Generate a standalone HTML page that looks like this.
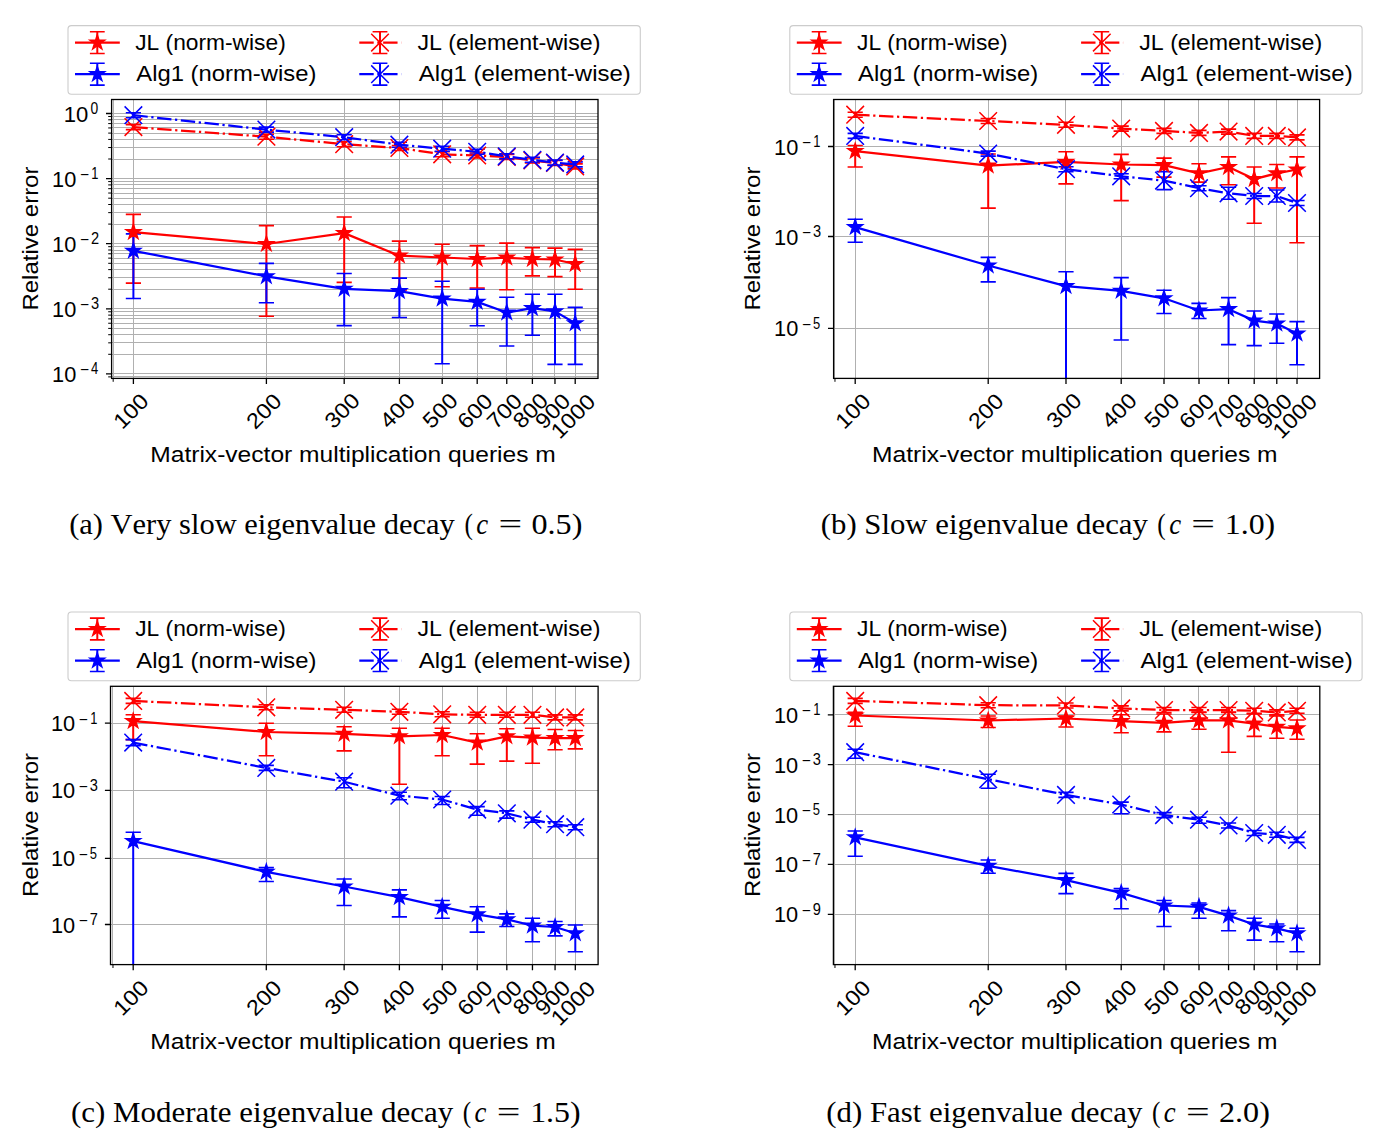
<!DOCTYPE html>
<html><head><meta charset="utf-8"><title>Figure</title>
<style>html,body{margin:0;padding:0;background:#fff;width:1376px;height:1129px;overflow:hidden}
svg{display:block;font-family:"Liberation Sans", sans-serif;font-kerning:none}
text{fill:#000}</style></head><body>
<svg width="1376" height="1129" viewBox="0 0 1376 1129">
<rect width="1376" height="1129" fill="#fff"/>
<clipPath id="clipa"><rect x="111.6" y="99.5" width="486.4" height="278.9"/></clipPath>
<path d="M111.6 376.5H598M111.6 354.5H598M111.6 342.5H598M111.6 334.5H598M111.6 328.5H598M111.6 323.5H598M111.6 318.5H598M111.6 315.5H598M111.6 311.5H598M111.6 289.5H598M111.6 277.5H598M111.6 269.5H598M111.6 263.5H598M111.6 258.5H598M111.6 253.5H598M111.6 250.5H598M111.6 246.5H598M111.6 224.5H598M111.6 212.5H598M111.6 204.5H598M111.6 198.5H598M111.6 193.5H598M111.6 188.5H598M111.6 184.5H598M111.6 181.5H598M111.6 159.5H598M111.6 147.5H598M111.6 139.5H598M111.6 133.5H598M111.6 127.5H598M111.6 123.5H598M111.6 119.5H598M111.6 116.5H598" stroke="#b0b0b0" stroke-width="1" fill="none"/>
<path d="M111.6 113.5H598M111.6 178.5H598M111.6 243.5H598M111.6 308.5H598M111.6 373.5H598M133.5 99.5V378.4M266.5 99.5V378.4M344.5 99.5V378.4M399.5 99.5V378.4M442.5 99.5V378.4M477.5 99.5V378.4M506.5 99.5V378.4M532.5 99.5V378.4M554.5 99.5V378.4M575.5 99.5V378.4M113.5 99.5V378.4" stroke="#b0b0b0" stroke-width="1" fill="none"/>
<path d="M106 113.5H111.6M106 178.6H111.6M106 243.7H111.6M106 308.8H111.6M106 373.9H111.6M133.4 378.4V384M266.4 378.4V384M344.19 378.4V384M399.39 378.4V384M442.2 378.4V384M477.19 378.4V384M506.76 378.4V384M532.39 378.4V384M554.98 378.4V384M575.2 378.4V384" stroke="#000" stroke-width="1.3" fill="none"/>
<path d="M108.2 376.88H111.6M108.2 354.3H111.6M108.2 342.84H111.6M108.2 334.71H111.6M108.2 328.4H111.6M108.2 323.24H111.6M108.2 318.88H111.6M108.2 315.11H111.6M108.2 311.78H111.6M108.2 289.2H111.6M108.2 277.74H111.6M108.2 269.61H111.6M108.2 263.3H111.6M108.2 258.14H111.6M108.2 253.78H111.6M108.2 250.01H111.6M108.2 246.68H111.6M108.2 224.1H111.6M108.2 212.64H111.6M108.2 204.51H111.6M108.2 198.2H111.6M108.2 193.04H111.6M108.2 188.68H111.6M108.2 184.91H111.6M108.2 181.58H111.6M108.2 159H111.6M108.2 147.54H111.6M108.2 139.41H111.6M108.2 133.1H111.6M108.2 127.94H111.6M108.2 123.58H111.6M108.2 119.81H111.6M108.2 116.48H111.6M113.18 378.4V381.8" stroke="#000" stroke-width="1" fill="none"/>
<g clip-path="url(#clipa)">
<path d="M133.4 214.4V283.1M266.4 225.6V316.2M344.19 217V282.4M399.39 241.1V290M442.2 244.2V286.7M477.19 245.6V288M506.76 243.1V289.8M532.39 247.6V275.9M554.98 248.1V276.6M575.2 249.4V289.2" stroke="#ff0000" stroke-width="2" fill="none"/>
<path d="M125.8 214.4H141M125.8 283.1H141M258.8 225.6H274M258.8 316.2H274M336.59 217H351.79M336.59 282.4H351.79M391.79 241.1H406.99M391.79 290H406.99M434.6 244.2H449.8M434.6 286.7H449.8M469.59 245.6H484.79M469.59 288H484.79M499.16 243.1H514.36M499.16 289.8H514.36M524.79 247.6H539.99M524.79 275.9H539.99M547.38 248.1H562.58M547.38 276.6H562.58M567.6 249.4H582.8M567.6 289.2H582.8" stroke="#ff0000" stroke-width="1.6" fill="none"/>
<path d="M133.4 233.9V298.5M266.4 263.4V302.8M344.19 273.5V325.6M399.39 278.1V317.5M442.2 281.2V363.7M477.19 289.2V325.8M506.76 297.3V346M532.39 294.3V335.2M554.98 294.3V364.4M575.2 307.4V364.4" stroke="#0000ff" stroke-width="2" fill="none"/>
<path d="M125.8 233.9H141M125.8 298.5H141M258.8 263.4H274M258.8 302.8H274M336.59 273.5H351.79M336.59 325.6H351.79M391.79 278.1H406.99M391.79 317.5H406.99M434.6 281.2H449.8M434.6 363.7H449.8M469.59 289.2H484.79M469.59 325.8H484.79M499.16 297.3H514.36M499.16 346H514.36M524.79 294.3H539.99M524.79 335.2H539.99M547.38 294.3H562.58M547.38 364.4H562.58M567.6 307.4H582.8M567.6 364.4H582.8" stroke="#0000ff" stroke-width="1.6" fill="none"/>
<path d="M133.4 124.6V129.6M266.4 134.2V139.2M344.19 141.7V146.7M399.39 145.5V150.5M442.2 151.8V156.8M477.19 153V158M506.76 154.5V159.5M532.39 158V163M554.98 160.5V165.5M575.2 163.9V168.9" stroke="#ff0000" stroke-width="2" fill="none"/>
<path d="M125.8 124.6H141M125.8 129.6H141M258.8 134.2H274M258.8 139.2H274M336.59 141.7H351.79M336.59 146.7H351.79M391.79 145.5H406.99M391.79 150.5H406.99M434.6 151.8H449.8M434.6 156.8H449.8M469.59 153H484.79M469.59 158H484.79M499.16 154.5H514.36M499.16 159.5H514.36M524.79 158H539.99M524.79 163H539.99M547.38 160.5H562.58M547.38 165.5H562.58M567.6 163.9H582.8M567.6 168.9H582.8" stroke="#ff0000" stroke-width="1.6" fill="none"/>
<path d="M133.4 112.7V117.7M266.4 127.1V132.1M344.19 134.7V139.7M399.39 142.2V147.2M442.2 146.2V151.2M477.19 149.3V154.3M506.76 153.8V158.8M532.39 157.3V162.3M554.98 160.1V165.1M575.2 161.9V166.9" stroke="#0000ff" stroke-width="2" fill="none"/>
<path d="M125.8 112.7H141M125.8 117.7H141M258.8 127.1H274M258.8 132.1H274M336.59 134.7H351.79M336.59 139.7H351.79M391.79 142.2H406.99M391.79 147.2H406.99M434.6 146.2H449.8M434.6 151.2H449.8M469.59 149.3H484.79M469.59 154.3H484.79M499.16 153.8H514.36M499.16 158.8H514.36M524.79 157.3H539.99M524.79 162.3H539.99M547.38 160.1H562.58M547.38 165.1H562.58M567.6 161.9H582.8M567.6 166.9H582.8" stroke="#0000ff" stroke-width="1.6" fill="none"/>
<path d="M133.4 232.1 L266.4 244 L344.19 233.1 L399.39 255.7 L442.2 257.5 L477.19 259 L506.76 257.7 L532.39 259 L554.98 259.5 L575.2 264" stroke="#ff0000" stroke-width="2.25" fill="none" stroke-linejoin="round"/>
<path d="M133.4 224.3 L131.65 229.69 L125.98 229.69 L130.57 233.02 L128.82 238.41 L133.4 235.08 L137.98 238.41 L136.23 233.02 L140.82 229.69 L135.15 229.69ZM266.4 236.2 L264.64 241.59 L258.98 241.59 L263.56 244.92 L261.81 250.31 L266.4 246.98 L270.98 250.31 L269.23 244.92 L273.81 241.59 L268.15 241.59ZM344.19 225.3 L342.44 230.69 L336.77 230.69 L341.36 234.02 L339.61 239.41 L344.19 236.08 L348.78 239.41 L347.03 234.02 L351.61 230.69 L345.94 230.69ZM399.39 247.9 L397.64 253.29 L391.97 253.29 L396.56 256.62 L394.81 262.01 L399.39 258.68 L403.97 262.01 L402.22 256.62 L406.81 253.29 L401.14 253.29ZM442.2 249.7 L440.45 255.09 L434.79 255.09 L439.37 258.42 L437.62 263.81 L442.2 260.48 L446.79 263.81 L445.04 258.42 L449.62 255.09 L443.96 255.09ZM477.19 251.2 L475.44 256.59 L469.77 256.59 L474.35 259.92 L472.6 265.31 L477.19 261.98 L481.77 265.31 L480.02 259.92 L484.61 256.59 L478.94 256.59ZM506.76 249.9 L505.01 255.29 L499.35 255.29 L503.93 258.62 L502.18 264.01 L506.76 260.68 L511.35 264.01 L509.6 258.62 L514.18 255.29 L508.52 255.29ZM532.39 251.2 L530.63 256.59 L524.97 256.59 L529.55 259.92 L527.8 265.31 L532.39 261.98 L536.97 265.31 L535.22 259.92 L539.8 256.59 L534.14 256.59ZM554.98 251.7 L553.23 257.09 L547.57 257.09 L552.15 260.42 L550.4 265.81 L554.98 262.48 L559.57 265.81 L557.82 260.42 L562.4 257.09 L556.74 257.09ZM575.2 256.2 L573.45 261.59 L567.78 261.59 L572.37 264.92 L570.62 270.31 L575.2 266.98 L579.78 270.31 L578.03 264.92 L582.62 261.59 L576.95 261.59Z" fill="#ff0000" stroke="#ff0000" stroke-width="1.4" stroke-linejoin="miter" stroke-miterlimit="4"/>
<path d="M133.4 250.8 L266.4 276.3 L344.19 288.8 L399.39 291.1 L442.2 298.6 L477.19 301.9 L506.76 312.5 L532.39 308.2 L554.98 311.4 L575.2 323.3" stroke="#0000ff" stroke-width="2.25" fill="none" stroke-linejoin="round"/>
<path d="M133.4 243 L131.65 248.39 L125.98 248.39 L130.57 251.72 L128.82 257.11 L133.4 253.78 L137.98 257.11 L136.23 251.72 L140.82 248.39 L135.15 248.39ZM266.4 268.5 L264.64 273.89 L258.98 273.89 L263.56 277.22 L261.81 282.61 L266.4 279.28 L270.98 282.61 L269.23 277.22 L273.81 273.89 L268.15 273.89ZM344.19 281 L342.44 286.39 L336.77 286.39 L341.36 289.72 L339.61 295.11 L344.19 291.78 L348.78 295.11 L347.03 289.72 L351.61 286.39 L345.94 286.39ZM399.39 283.3 L397.64 288.69 L391.97 288.69 L396.56 292.02 L394.81 297.41 L399.39 294.08 L403.97 297.41 L402.22 292.02 L406.81 288.69 L401.14 288.69ZM442.2 290.8 L440.45 296.19 L434.79 296.19 L439.37 299.52 L437.62 304.91 L442.2 301.58 L446.79 304.91 L445.04 299.52 L449.62 296.19 L443.96 296.19ZM477.19 294.1 L475.44 299.49 L469.77 299.49 L474.35 302.82 L472.6 308.21 L477.19 304.88 L481.77 308.21 L480.02 302.82 L484.61 299.49 L478.94 299.49ZM506.76 304.7 L505.01 310.09 L499.35 310.09 L503.93 313.42 L502.18 318.81 L506.76 315.48 L511.35 318.81 L509.6 313.42 L514.18 310.09 L508.52 310.09ZM532.39 300.4 L530.63 305.79 L524.97 305.79 L529.55 309.12 L527.8 314.51 L532.39 311.18 L536.97 314.51 L535.22 309.12 L539.8 305.79 L534.14 305.79ZM554.98 303.6 L553.23 308.99 L547.57 308.99 L552.15 312.32 L550.4 317.71 L554.98 314.38 L559.57 317.71 L557.82 312.32 L562.4 308.99 L556.74 308.99ZM575.2 315.5 L573.45 320.89 L567.78 320.89 L572.37 324.22 L570.62 329.61 L575.2 326.28 L579.78 329.61 L578.03 324.22 L582.62 320.89 L576.95 320.89Z" fill="#0000ff" stroke="#0000ff" stroke-width="1.4" stroke-linejoin="miter" stroke-miterlimit="4"/>
<path d="M133.4 127.1 L266.4 136.7 L344.19 144.2 L399.39 148 L442.2 154.3 L477.19 155.5 L506.76 157 L532.39 160.5 L554.98 163 L575.2 166.4" stroke="#ff0000" stroke-width="2.25" fill="none" stroke-dasharray="14.4 3.6 2.25 3.6"/>
<path d="M124.6 118.3L142.2 135.9M124.6 135.9L142.2 118.3M257.6 127.9L275.2 145.5M257.6 145.5L275.2 127.9M335.39 135.4L352.99 153M335.39 153L352.99 135.4M390.59 139.2L408.19 156.8M390.59 156.8L408.19 139.2M433.4 145.5L451 163.1M433.4 163.1L451 145.5M468.39 146.7L485.99 164.3M468.39 164.3L485.99 146.7M497.96 148.2L515.56 165.8M497.96 165.8L515.56 148.2M523.59 151.7L541.19 169.3M523.59 169.3L541.19 151.7M546.18 154.2L563.78 171.8M546.18 171.8L563.78 154.2M566.4 157.6L584 175.2M566.4 175.2L584 157.6" stroke="#ff0000" stroke-width="1.5" fill="none"/>
<path d="M133.4 115.2 L266.4 129.6 L344.19 137.2 L399.39 144.7 L442.2 148.7 L477.19 151.8 L506.76 156.3 L532.39 159.8 L554.98 162.6 L575.2 164.4" stroke="#0000ff" stroke-width="2.25" fill="none" stroke-dasharray="14.4 3.6 2.25 3.6"/>
<path d="M124.6 106.4L142.2 124M124.6 124L142.2 106.4M257.6 120.8L275.2 138.4M257.6 138.4L275.2 120.8M335.39 128.4L352.99 146M335.39 146L352.99 128.4M390.59 135.9L408.19 153.5M390.59 153.5L408.19 135.9M433.4 139.9L451 157.5M433.4 157.5L451 139.9M468.39 143L485.99 160.6M468.39 160.6L485.99 143M497.96 147.5L515.56 165.1M497.96 165.1L515.56 147.5M523.59 151L541.19 168.6M523.59 168.6L541.19 151M546.18 153.8L563.78 171.4M546.18 171.4L563.78 153.8M566.4 155.6L584 173.2M566.4 173.2L584 155.6" stroke="#0000ff" stroke-width="1.5" fill="none"/>
</g>
<rect x="111.6" y="99.5" width="486.4" height="278.9" fill="none" stroke="#000" stroke-width="1.3"/>
<text transform="translate(63.78 121.5) scale(1.0213 1)" font-size="21.6">10</text>
<text transform="translate(90.6 114) scale(0.8889 1)" font-size="15.6">0</text>
<text transform="translate(52.09 186.6) scale(1.0083 1)" font-size="21.6">10</text>
<text transform="translate(79.9 180.1) scale(0.9889 1)" font-size="15.6">−</text>
<text transform="translate(91.37 179.1) scale(0.8286 1)" font-size="15.6">1</text>
<text transform="translate(52.09 251.7) scale(1.0083 1)" font-size="21.6">10</text>
<text transform="translate(79.9 245.2) scale(0.9889 1)" font-size="15.6">−</text>
<text transform="translate(90.9 244.2) scale(0.9375 1)" font-size="15.6">2</text>
<text transform="translate(52.09 316.8) scale(1.0083 1)" font-size="21.6">10</text>
<text transform="translate(79.9 310.3) scale(0.9889 1)" font-size="15.6">−</text>
<text transform="translate(90.9 309.3) scale(0.9375 1)" font-size="15.6">3</text>
<text transform="translate(52.09 381.9) scale(1.0083 1)" font-size="21.6">10</text>
<text transform="translate(79.9 375.4) scale(0.9889 1)" font-size="15.6">−</text>
<text transform="translate(90.9 374.4) scale(0.8333 1)" font-size="15.6">4</text>
<text transform="translate(131.2 410.5) rotate(-45) translate(-20.18 7.67) scale(1.09 1)" font-size="21.6">100</text>
<text transform="translate(264.2 410.5) rotate(-45) translate(-20.18 7.67) scale(1.09 1)" font-size="21.6">200</text>
<text transform="translate(341.99 410.5) rotate(-45) translate(-19.63 7.67) scale(1.09 1)" font-size="21.6">300</text>
<text transform="translate(397.19 410.5) rotate(-45) translate(-19.63 7.67) scale(1.09 1)" font-size="21.6">400</text>
<text transform="translate(440 410.5) rotate(-45) translate(-19.63 7.67) scale(1.09 1)" font-size="21.6">500</text>
<text transform="translate(474.99 410.5) rotate(-45) translate(-20.18 7.67) scale(1.09 1)" font-size="21.6">600</text>
<text transform="translate(504.56 410.5) rotate(-45) translate(-20.18 7.67) scale(1.09 1)" font-size="21.6">700</text>
<text transform="translate(530.19 410.5) rotate(-45) translate(-19.63 7.67) scale(1.09 1)" font-size="21.6">800</text>
<text transform="translate(552.78 410.5) rotate(-45) translate(-20.18 7.67) scale(1.09 1)" font-size="21.6">900</text>
<text transform="translate(573.2 415.8) rotate(-45) translate(-26.72 7.67) scale(1.09 1)" font-size="21.6">1000</text>
<text transform="translate(150.26 462.3) scale(1.1382 1)" font-size="21.6">Matrix-vector multiplication queries m</text>
<text transform="translate(38.1 309.5) rotate(-90) translate(-1.11 0) scale(1.1120 1)" font-size="21.6">Relative error</text>
<rect x="68" y="25.6" width="572.3" height="68.7" rx="3.5" fill="#fff" fill-opacity="0.8" stroke="#cccccc" stroke-width="1.1"/>
<path d="M75 42.6H119.8" stroke="#ff0000" stroke-width="2.25"/>
<path d="M97.3 31.7V53.5" stroke="#ff0000" stroke-width="2"/>
<path d="M89.9 31.7H104.7M89.9 53.5H104.7" stroke="#ff0000" stroke-width="1.6"/>
<path d="M97.3 34.8 L95.55 40.19 L89.88 40.19 L94.47 43.52 L92.72 48.91 L97.3 45.58 L101.88 48.91 L100.13 43.52 L104.72 40.19 L99.05 40.19Z" fill="#ff0000" stroke="#ff0000" stroke-width="1.4" stroke-linejoin="miter" stroke-miterlimit="4"/>
<path d="M75 74.2H119.8" stroke="#0000ff" stroke-width="2.25"/>
<path d="M97.3 63.3V85.1" stroke="#0000ff" stroke-width="2"/>
<path d="M89.9 63.3H104.7M89.9 85.1H104.7" stroke="#0000ff" stroke-width="1.6"/>
<path d="M97.3 66.4 L95.55 71.79 L89.88 71.79 L94.47 75.12 L92.72 80.51 L97.3 77.18 L101.88 80.51 L100.13 75.12 L104.72 71.79 L99.05 71.79Z" fill="#0000ff" stroke="#0000ff" stroke-width="1.4" stroke-linejoin="miter" stroke-miterlimit="4"/>
<path d="M359.3 42.6H401.3" stroke="#ff0000" stroke-width="2.25" stroke-dasharray="14.4 3.6 2.25 3.6"/>
<path d="M380 31.7V53.5" stroke="#ff0000" stroke-width="2"/>
<path d="M372.6 31.7H387.4M372.6 53.5H387.4" stroke="#ff0000" stroke-width="1.6"/>
<path d="M371.2 33.8L388.8 51.4M371.2 51.4L388.8 33.8" stroke="#ff0000" stroke-width="1.5"/>
<path d="M359.3 74.2H401.3" stroke="#0000ff" stroke-width="2.25" stroke-dasharray="14.4 3.6 2.25 3.6"/>
<path d="M380 63.3V85.1" stroke="#0000ff" stroke-width="2"/>
<path d="M372.6 63.3H387.4M372.6 85.1H387.4" stroke="#0000ff" stroke-width="1.6"/>
<path d="M371.2 65.4L388.8 83M371.2 83L388.8 65.4" stroke="#0000ff" stroke-width="1.5"/>
<text transform="translate(135.2 49.5) scale(1.0545 1)" font-size="21.6">JL (norm-wise)</text>
<text transform="translate(136.3 81.1) scale(1.1037 1)" font-size="21.6">Alg1 (norm-wise)</text>
<text transform="translate(417.4 49.5) scale(1.0738 1)" font-size="21.6">JL (element-wise)</text>
<text transform="translate(418.8 81.1) scale(1.1112 1)" font-size="21.6">Alg1 (element-wise)</text>
<text transform="translate(69.18 534.1) scale(1.0158 1)" font-size="30" font-family='"Liberation Serif", serif'>(a) Very slow eigenvalue decay</text>
<text transform="translate(464.46 534.1) scale(0.8444 1)" font-size="30" font-family='"Liberation Serif", serif'>(</text>
<text transform="translate(476.3 534.1) scale(0.8923 1)" font-size="30" font-family='"Liberation Serif", serif' font-style="italic">c</text>
<text transform="translate(498.4 534.1) scale(1.4000 1)" font-size="30" font-family='"Liberation Serif", serif'>=</text>
<text transform="translate(531.43 534.1) scale(1.0725 1)" font-size="30" font-family='"Liberation Serif", serif'>0.5)</text>
<clipPath id="clipb"><rect x="833.6" y="99.5" width="486" height="278.9"/></clipPath>
<path d="" stroke="#b0b0b0" stroke-width="1" fill="none"/>
<path d="M833.6 146.5H1319.6M833.6 236.5H1319.6M833.6 328.5H1319.6M855.5 99.5V378.4M988.5 99.5V378.4M1065.5 99.5V378.4M1121.5 99.5V378.4M1164.5 99.5V378.4M1198.5 99.5V378.4M1228.5 99.5V378.4M1254.5 99.5V378.4M1276.5 99.5V378.4M1297.5 99.5V378.4M834.5 99.5V378.4" stroke="#b0b0b0" stroke-width="1" fill="none"/>
<path d="M828 146.5H833.6M828 236.5H833.6M828 328.4H833.6M855.2 378.4V384M988.2 378.4V384M1065.99 378.4V384M1121.19 378.4V384M1164 378.4V384M1198.99 378.4V384M1228.56 378.4V384M1254.19 378.4V384M1276.78 378.4V384M1297 378.4V384" stroke="#000" stroke-width="1.3" fill="none"/>
<path d="M834.98 378.4V381.8" stroke="#000" stroke-width="1" fill="none"/>
<g clip-path="url(#clipb)">
<path d="M855.2 145.5V167M988.2 154V208.1M1065.99 151.8V183.9M1121.19 154.4V200.6M1164 158.1V177.1M1198.99 163.7V182.1M1228.56 156.9V184.7M1254.19 167V223.3M1276.78 164.5V188M1297 156.9V242.8" stroke="#ff0000" stroke-width="2" fill="none"/>
<path d="M847.6 145.5H862.8M847.6 167H862.8M980.6 154H995.8M980.6 208.1H995.8M1058.39 151.8H1073.59M1058.39 183.9H1073.59M1113.59 154.4H1128.79M1113.59 200.6H1128.79M1156.4 158.1H1171.6M1156.4 177.1H1171.6M1191.39 163.7H1206.59M1191.39 182.1H1206.59M1220.96 156.9H1236.16M1220.96 184.7H1236.16M1246.59 167H1261.79M1246.59 223.3H1261.79M1269.18 164.5H1284.38M1269.18 188H1284.38M1289.4 156.9H1304.6M1289.4 242.8H1304.6" stroke="#ff0000" stroke-width="1.6" fill="none"/>
<path d="M855.2 219.3V242.3M988.2 257.4V281.9M1065.99 271.8V420M1121.19 277.6V340M1164 290.3V313.5M1198.99 303.4V318.5M1228.56 297.6V344.6M1254.19 311V345.6M1276.78 314V343.3M1297 321.6V364.8" stroke="#0000ff" stroke-width="2" fill="none"/>
<path d="M847.6 219.3H862.8M847.6 242.3H862.8M980.6 257.4H995.8M980.6 281.9H995.8M1058.39 271.8H1073.59M1058.39 420H1073.59M1113.59 277.6H1128.79M1113.59 340H1128.79M1156.4 290.3H1171.6M1156.4 313.5H1171.6M1191.39 303.4H1206.59M1191.39 318.5H1206.59M1220.96 297.6H1236.16M1220.96 344.6H1236.16M1246.59 311H1261.79M1246.59 345.6H1261.79M1269.18 314H1284.38M1269.18 343.3H1284.38M1289.4 321.6H1304.6M1289.4 364.8H1304.6" stroke="#0000ff" stroke-width="1.6" fill="none"/>
<path d="M855.2 112.2V117.2M988.2 118.5V123.5M1065.99 122.3V127.3M1121.19 126.1V131.1M1164 128.4V133.4M1198.99 130.4V135.4M1228.56 129.1V134.1M1254.19 133.4V138.4M1276.78 133.4V138.4M1297 134.9V139.9" stroke="#ff0000" stroke-width="2" fill="none"/>
<path d="M847.6 112.2H862.8M847.6 117.2H862.8M980.6 118.5H995.8M980.6 123.5H995.8M1058.39 122.3H1073.59M1058.39 127.3H1073.59M1113.59 126.1H1128.79M1113.59 131.1H1128.79M1156.4 128.4H1171.6M1156.4 133.4H1171.6M1191.39 130.4H1206.59M1191.39 135.4H1206.59M1220.96 129.1H1236.16M1220.96 134.1H1236.16M1246.59 133.4H1261.79M1246.59 138.4H1261.79M1269.18 133.4H1284.38M1269.18 138.4H1284.38M1289.4 134.9H1304.6M1289.4 139.9H1304.6" stroke="#ff0000" stroke-width="1.6" fill="none"/>
<path d="M855.2 133.4V138.4M988.2 151.1V156.1M1065.99 166.7V171.7M1121.19 173.8V178.8M1164 171.6V189.6M1198.99 185.7V190.7M1228.56 187.3V199.3M1254.19 193.5V198.5M1276.78 190V202M1297 200.5V205.5" stroke="#0000ff" stroke-width="2" fill="none"/>
<path d="M847.6 133.4H862.8M847.6 138.4H862.8M980.6 151.1H995.8M980.6 156.1H995.8M1058.39 166.7H1073.59M1058.39 171.7H1073.59M1113.59 173.8H1128.79M1113.59 178.8H1128.79M1156.4 171.6H1171.6M1156.4 189.6H1171.6M1191.39 185.7H1206.59M1191.39 190.7H1206.59M1220.96 187.3H1236.16M1220.96 199.3H1236.16M1246.59 193.5H1261.79M1246.59 198.5H1261.79M1269.18 190H1284.38M1269.18 202H1284.38M1289.4 200.5H1304.6M1289.4 205.5H1304.6" stroke="#0000ff" stroke-width="1.6" fill="none"/>
<path d="M855.2 151.1 L988.2 165.7 L1065.99 161.9 L1121.19 164.5 L1164 165.2 L1198.99 173.3 L1228.56 167 L1254.19 179.1 L1276.78 173.3 L1297 169.5" stroke="#ff0000" stroke-width="2.25" fill="none" stroke-linejoin="round"/>
<path d="M855.2 143.3 L853.45 148.69 L847.78 148.69 L852.37 152.02 L850.62 157.41 L855.2 154.08 L859.78 157.41 L858.03 152.02 L862.62 148.69 L856.95 148.69ZM988.2 157.9 L986.44 163.29 L980.78 163.29 L985.36 166.62 L983.61 172.01 L988.2 168.68 L992.78 172.01 L991.03 166.62 L995.61 163.29 L989.95 163.29ZM1065.99 154.1 L1064.24 159.49 L1058.57 159.49 L1063.16 162.82 L1061.41 168.21 L1065.99 164.88 L1070.58 168.21 L1068.83 162.82 L1073.41 159.49 L1067.74 159.49ZM1121.19 156.7 L1119.44 162.09 L1113.77 162.09 L1118.36 165.42 L1116.61 170.81 L1121.19 167.48 L1125.77 170.81 L1124.02 165.42 L1128.61 162.09 L1122.94 162.09ZM1164 157.4 L1162.25 162.79 L1156.59 162.79 L1161.17 166.12 L1159.42 171.51 L1164 168.18 L1168.59 171.51 L1166.84 166.12 L1171.42 162.79 L1165.76 162.79ZM1198.99 165.5 L1197.24 170.89 L1191.57 170.89 L1196.15 174.22 L1194.4 179.61 L1198.99 176.28 L1203.57 179.61 L1201.82 174.22 L1206.41 170.89 L1200.74 170.89ZM1228.56 159.2 L1226.81 164.59 L1221.15 164.59 L1225.73 167.92 L1223.98 173.31 L1228.56 169.98 L1233.15 173.31 L1231.4 167.92 L1235.98 164.59 L1230.32 164.59ZM1254.19 171.3 L1252.43 176.69 L1246.77 176.69 L1251.35 180.02 L1249.6 185.41 L1254.19 182.08 L1258.77 185.41 L1257.02 180.02 L1261.6 176.69 L1255.94 176.69ZM1276.78 165.5 L1275.03 170.89 L1269.37 170.89 L1273.95 174.22 L1272.2 179.61 L1276.78 176.28 L1281.37 179.61 L1279.62 174.22 L1284.2 170.89 L1278.54 170.89ZM1297 161.7 L1295.25 167.09 L1289.58 167.09 L1294.17 170.42 L1292.42 175.81 L1297 172.48 L1301.58 175.81 L1299.83 170.42 L1304.42 167.09 L1298.75 167.09Z" fill="#ff0000" stroke="#ff0000" stroke-width="1.4" stroke-linejoin="miter" stroke-miterlimit="4"/>
<path d="M855.2 227.2 L988.2 265.5 L1065.99 286.2 L1121.19 290.8 L1164 298.3 L1198.99 310.5 L1228.56 309.2 L1254.19 320.6 L1276.78 323.6 L1297 333.7" stroke="#0000ff" stroke-width="2.25" fill="none" stroke-linejoin="round"/>
<path d="M855.2 219.4 L853.45 224.79 L847.78 224.79 L852.37 228.12 L850.62 233.51 L855.2 230.18 L859.78 233.51 L858.03 228.12 L862.62 224.79 L856.95 224.79ZM988.2 257.7 L986.44 263.09 L980.78 263.09 L985.36 266.42 L983.61 271.81 L988.2 268.48 L992.78 271.81 L991.03 266.42 L995.61 263.09 L989.95 263.09ZM1065.99 278.4 L1064.24 283.79 L1058.57 283.79 L1063.16 287.12 L1061.41 292.51 L1065.99 289.18 L1070.58 292.51 L1068.83 287.12 L1073.41 283.79 L1067.74 283.79ZM1121.19 283 L1119.44 288.39 L1113.77 288.39 L1118.36 291.72 L1116.61 297.11 L1121.19 293.78 L1125.77 297.11 L1124.02 291.72 L1128.61 288.39 L1122.94 288.39ZM1164 290.5 L1162.25 295.89 L1156.59 295.89 L1161.17 299.22 L1159.42 304.61 L1164 301.28 L1168.59 304.61 L1166.84 299.22 L1171.42 295.89 L1165.76 295.89ZM1198.99 302.7 L1197.24 308.09 L1191.57 308.09 L1196.15 311.42 L1194.4 316.81 L1198.99 313.48 L1203.57 316.81 L1201.82 311.42 L1206.41 308.09 L1200.74 308.09ZM1228.56 301.4 L1226.81 306.79 L1221.15 306.79 L1225.73 310.12 L1223.98 315.51 L1228.56 312.18 L1233.15 315.51 L1231.4 310.12 L1235.98 306.79 L1230.32 306.79ZM1254.19 312.8 L1252.43 318.19 L1246.77 318.19 L1251.35 321.52 L1249.6 326.91 L1254.19 323.58 L1258.77 326.91 L1257.02 321.52 L1261.6 318.19 L1255.94 318.19ZM1276.78 315.8 L1275.03 321.19 L1269.37 321.19 L1273.95 324.52 L1272.2 329.91 L1276.78 326.58 L1281.37 329.91 L1279.62 324.52 L1284.2 321.19 L1278.54 321.19ZM1297 325.9 L1295.25 331.29 L1289.58 331.29 L1294.17 334.62 L1292.42 340.01 L1297 336.68 L1301.58 340.01 L1299.83 334.62 L1304.42 331.29 L1298.75 331.29Z" fill="#0000ff" stroke="#0000ff" stroke-width="1.4" stroke-linejoin="miter" stroke-miterlimit="4"/>
<path d="M855.2 114.7 L988.2 121 L1065.99 124.8 L1121.19 128.6 L1164 130.9 L1198.99 132.9 L1228.56 131.6 L1254.19 135.9 L1276.78 135.9 L1297 137.4" stroke="#ff0000" stroke-width="2.25" fill="none" stroke-dasharray="14.4 3.6 2.25 3.6"/>
<path d="M846.4 105.9L864 123.5M846.4 123.5L864 105.9M979.4 112.2L997 129.8M979.4 129.8L997 112.2M1057.19 116L1074.79 133.6M1057.19 133.6L1074.79 116M1112.39 119.8L1129.99 137.4M1112.39 137.4L1129.99 119.8M1155.2 122.1L1172.8 139.7M1155.2 139.7L1172.8 122.1M1190.19 124.1L1207.79 141.7M1190.19 141.7L1207.79 124.1M1219.76 122.8L1237.36 140.4M1219.76 140.4L1237.36 122.8M1245.39 127.1L1262.99 144.7M1245.39 144.7L1262.99 127.1M1267.98 127.1L1285.58 144.7M1267.98 144.7L1285.58 127.1M1288.2 128.6L1305.8 146.2M1288.2 146.2L1305.8 128.6" stroke="#ff0000" stroke-width="1.5" fill="none"/>
<path d="M855.2 135.9 L988.2 153.6 L1065.99 169.2 L1121.19 176.3 L1164 180.6 L1198.99 188.2 L1228.56 193.3 L1254.19 196 L1276.78 196 L1297 203" stroke="#0000ff" stroke-width="2.25" fill="none" stroke-dasharray="14.4 3.6 2.25 3.6"/>
<path d="M846.4 127.1L864 144.7M846.4 144.7L864 127.1M979.4 144.8L997 162.4M979.4 162.4L997 144.8M1057.19 160.4L1074.79 178M1057.19 178L1074.79 160.4M1112.39 167.5L1129.99 185.1M1112.39 185.1L1129.99 167.5M1155.2 171.8L1172.8 189.4M1155.2 189.4L1172.8 171.8M1190.19 179.4L1207.79 197M1190.19 197L1207.79 179.4M1219.76 184.5L1237.36 202.1M1219.76 202.1L1237.36 184.5M1245.39 187.2L1262.99 204.8M1245.39 204.8L1262.99 187.2M1267.98 187.2L1285.58 204.8M1267.98 204.8L1285.58 187.2M1288.2 194.2L1305.8 211.8M1288.2 211.8L1305.8 194.2" stroke="#0000ff" stroke-width="1.5" fill="none"/>
</g>
<rect x="833.6" y="99.5" width="486" height="278.9" fill="none" stroke="#000" stroke-width="1.3"/>
<text transform="translate(774.09 154.5) scale(1.0083 1)" font-size="21.6">10</text>
<text transform="translate(801.9 148) scale(0.9889 1)" font-size="15.6">−</text>
<text transform="translate(813.37 147) scale(0.8286 1)" font-size="15.6">1</text>
<text transform="translate(774.09 244.5) scale(1.0083 1)" font-size="21.6">10</text>
<text transform="translate(801.9 238) scale(0.9889 1)" font-size="15.6">−</text>
<text transform="translate(812.9 237) scale(0.9375 1)" font-size="15.6">3</text>
<text transform="translate(774.09 336.4) scale(1.0083 1)" font-size="21.6">10</text>
<text transform="translate(801.9 329.9) scale(0.9889 1)" font-size="15.6">−</text>
<text transform="translate(812.9 328.9) scale(0.8333 1)" font-size="15.6">5</text>
<text transform="translate(853 410.5) rotate(-45) translate(-20.18 7.67) scale(1.09 1)" font-size="21.6">100</text>
<text transform="translate(986 410.5) rotate(-45) translate(-20.18 7.67) scale(1.09 1)" font-size="21.6">200</text>
<text transform="translate(1063.79 410.5) rotate(-45) translate(-19.63 7.67) scale(1.09 1)" font-size="21.6">300</text>
<text transform="translate(1118.99 410.5) rotate(-45) translate(-19.63 7.67) scale(1.09 1)" font-size="21.6">400</text>
<text transform="translate(1161.8 410.5) rotate(-45) translate(-19.63 7.67) scale(1.09 1)" font-size="21.6">500</text>
<text transform="translate(1196.79 410.5) rotate(-45) translate(-20.18 7.67) scale(1.09 1)" font-size="21.6">600</text>
<text transform="translate(1226.36 410.5) rotate(-45) translate(-20.18 7.67) scale(1.09 1)" font-size="21.6">700</text>
<text transform="translate(1251.99 410.5) rotate(-45) translate(-19.63 7.67) scale(1.09 1)" font-size="21.6">800</text>
<text transform="translate(1274.58 410.5) rotate(-45) translate(-20.18 7.67) scale(1.09 1)" font-size="21.6">900</text>
<text transform="translate(1295 415.8) rotate(-45) translate(-26.72 7.67) scale(1.09 1)" font-size="21.6">1000</text>
<text transform="translate(872.06 462.3) scale(1.1382 1)" font-size="21.6">Matrix-vector multiplication queries m</text>
<text transform="translate(759.9 309.5) rotate(-90) translate(-1.11 0) scale(1.1120 1)" font-size="21.6">Relative error</text>
<rect x="789.8" y="25.6" width="572.3" height="68.7" rx="3.5" fill="#fff" fill-opacity="0.8" stroke="#cccccc" stroke-width="1.1"/>
<path d="M796.8 42.6H841.6" stroke="#ff0000" stroke-width="2.25"/>
<path d="M819.1 31.7V53.5" stroke="#ff0000" stroke-width="2"/>
<path d="M811.7 31.7H826.5M811.7 53.5H826.5" stroke="#ff0000" stroke-width="1.6"/>
<path d="M819.1 34.8 L817.35 40.19 L811.68 40.19 L816.27 43.52 L814.52 48.91 L819.1 45.58 L823.68 48.91 L821.93 43.52 L826.52 40.19 L820.85 40.19Z" fill="#ff0000" stroke="#ff0000" stroke-width="1.4" stroke-linejoin="miter" stroke-miterlimit="4"/>
<path d="M796.8 74.2H841.6" stroke="#0000ff" stroke-width="2.25"/>
<path d="M819.1 63.3V85.1" stroke="#0000ff" stroke-width="2"/>
<path d="M811.7 63.3H826.5M811.7 85.1H826.5" stroke="#0000ff" stroke-width="1.6"/>
<path d="M819.1 66.4 L817.35 71.79 L811.68 71.79 L816.27 75.12 L814.52 80.51 L819.1 77.18 L823.68 80.51 L821.93 75.12 L826.52 71.79 L820.85 71.79Z" fill="#0000ff" stroke="#0000ff" stroke-width="1.4" stroke-linejoin="miter" stroke-miterlimit="4"/>
<path d="M1081.1 42.6H1123.1" stroke="#ff0000" stroke-width="2.25" stroke-dasharray="14.4 3.6 2.25 3.6"/>
<path d="M1101.8 31.7V53.5" stroke="#ff0000" stroke-width="2"/>
<path d="M1094.4 31.7H1109.2M1094.4 53.5H1109.2" stroke="#ff0000" stroke-width="1.6"/>
<path d="M1093 33.8L1110.6 51.4M1093 51.4L1110.6 33.8" stroke="#ff0000" stroke-width="1.5"/>
<path d="M1081.1 74.2H1123.1" stroke="#0000ff" stroke-width="2.25" stroke-dasharray="14.4 3.6 2.25 3.6"/>
<path d="M1101.8 63.3V85.1" stroke="#0000ff" stroke-width="2"/>
<path d="M1094.4 63.3H1109.2M1094.4 85.1H1109.2" stroke="#0000ff" stroke-width="1.6"/>
<path d="M1093 65.4L1110.6 83M1093 83L1110.6 65.4" stroke="#0000ff" stroke-width="1.5"/>
<text transform="translate(857 49.5) scale(1.0545 1)" font-size="21.6">JL (norm-wise)</text>
<text transform="translate(858.1 81.1) scale(1.1037 1)" font-size="21.6">Alg1 (norm-wise)</text>
<text transform="translate(1139.2 49.5) scale(1.0738 1)" font-size="21.6">JL (element-wise)</text>
<text transform="translate(1140.6 81.1) scale(1.1112 1)" font-size="21.6">Alg1 (element-wise)</text>
<text transform="translate(820.77 534.2) scale(1.0253 1)" font-size="30" font-family='"Liberation Serif", serif'>(b) Slow eigenvalue decay</text>
<text transform="translate(1157.36 534.2) scale(0.8444 1)" font-size="30" font-family='"Liberation Serif", serif'>(</text>
<text transform="translate(1169.2 534.2) scale(0.8923 1)" font-size="30" font-family='"Liberation Serif", serif' font-style="italic">c</text>
<text transform="translate(1191.3 534.2) scale(1.4000 1)" font-size="30" font-family='"Liberation Serif", serif'>=</text>
<text transform="translate(1224.77 534.2) scale(1.0629 1)" font-size="30" font-family='"Liberation Serif", serif'>1.0)</text>
<clipPath id="clipc"><rect x="110.5" y="686.3" width="487.6" height="278.3"/></clipPath>
<path d="" stroke="#b0b0b0" stroke-width="1" fill="none"/>
<path d="M110.5 723.5H598.1M110.5 790.5H598.1M110.5 858.5H598.1M110.5 924.5H598.1M133.5 686.3V964.6M266.5 686.3V964.6M344.5 686.3V964.6M399.5 686.3V964.6M442.5 686.3V964.6M477.5 686.3V964.6M506.5 686.3V964.6M532.5 686.3V964.6M555.5 686.3V964.6M575.5 686.3V964.6M112.5 686.3V964.6" stroke="#b0b0b0" stroke-width="1" fill="none"/>
<path d="M104.9 723.2H110.5M104.9 790.3H110.5M104.9 858.4H110.5M104.9 924.5H110.5M133.2 964.6V970.2M266.29 964.6V970.2M344.14 964.6V970.2M399.37 964.6V970.2M442.21 964.6V970.2M477.22 964.6V970.2M506.82 964.6V970.2M532.46 964.6V970.2M555.07 964.6V970.2M575.3 964.6V970.2" stroke="#000" stroke-width="1.3" fill="none"/>
<path d="M112.97 964.6V968" stroke="#000" stroke-width="1" fill="none"/>
<g clip-path="url(#clipc)">
<path d="M133.2 714.8V739.6M266.29 723.2V755.7M344.14 726.7V750.9M399.37 728.2V784.3M442.21 728.2V755.8M477.22 733.8V764.1M506.82 728.7V761.1M532.46 728.2V763.3M555.07 729.5V749.7M575.3 730.5V748.9" stroke="#ff0000" stroke-width="2" fill="none"/>
<path d="M125.6 714.8H140.8M125.6 739.6H140.8M258.69 723.2H273.89M258.69 755.7H273.89M336.54 726.7H351.74M336.54 750.9H351.74M391.77 728.2H406.97M391.77 784.3H406.97M434.61 728.2H449.81M434.61 755.8H449.81M469.62 733.8H484.82M469.62 764.1H484.82M499.22 728.7H514.42M499.22 761.1H514.42M524.86 728.2H540.06M524.86 763.3H540.06M547.47 729.5H562.67M547.47 749.7H562.67M567.7 730.5H582.9M567.7 748.9H582.9" stroke="#ff0000" stroke-width="1.6" fill="none"/>
<path d="M133.2 832.3V1000M266.29 867.6V881.5M344.14 879V905.5M399.37 889.9V916.9M442.21 900.5V918.2M477.22 906.8V932.1M506.82 913.9V926.5M532.46 918.2V941.7M555.07 921.5V935.9M575.3 925V951.8" stroke="#0000ff" stroke-width="2" fill="none"/>
<path d="M125.6 832.3H140.8M125.6 1000H140.8M258.69 867.6H273.89M258.69 881.5H273.89M336.54 879H351.74M336.54 905.5H351.74M391.77 889.9H406.97M391.77 916.9H406.97M434.61 900.5H449.81M434.61 918.2H449.81M469.62 906.8H484.82M469.62 932.1H484.82M499.22 913.9H514.42M499.22 926.5H514.42M524.86 918.2H540.06M524.86 941.7H540.06M547.47 921.5H562.67M547.47 935.9H562.67M567.7 925H582.9M567.7 951.8H582.9" stroke="#0000ff" stroke-width="1.6" fill="none"/>
<path d="M133.2 698.4V703.4M266.29 704.8V709.8M344.14 707.3V712.3M399.37 709.3V714.3M442.21 711.8V716.8M477.22 712.3V717.3M506.82 712.3V717.3M532.46 712.3V717.3M555.07 714.9V719.9M575.3 714.9V719.9" stroke="#ff0000" stroke-width="2" fill="none"/>
<path d="M125.6 698.4H140.8M125.6 703.4H140.8M258.69 704.8H273.89M258.69 709.8H273.89M336.54 707.3H351.74M336.54 712.3H351.74M391.77 709.3H406.97M391.77 714.3H406.97M434.61 711.8H449.81M434.61 716.8H449.81M469.62 712.3H484.82M469.62 717.3H484.82M499.22 712.3H514.42M499.22 717.3H514.42M524.86 712.3H540.06M524.86 717.3H540.06M547.47 714.9H562.67M547.47 719.9H562.67M567.7 714.9H582.9M567.7 719.9H582.9" stroke="#ff0000" stroke-width="1.6" fill="none"/>
<path d="M133.2 739.6V745.6M266.29 765.4V770.4M344.14 777.7V787.7M399.37 792.2V799.7M442.21 796.5V804.5M477.22 806.6V815.2M506.82 810.9V818.1M532.46 817.2V822.2M555.07 821.7V826.7M575.3 824.7V829.7" stroke="#0000ff" stroke-width="2" fill="none"/>
<path d="M125.6 739.6H140.8M125.6 745.6H140.8M258.69 765.4H273.89M258.69 770.4H273.89M336.54 777.7H351.74M336.54 787.7H351.74M391.77 792.2H406.97M391.77 799.7H406.97M434.61 796.5H449.81M434.61 804.5H449.81M469.62 806.6H484.82M469.62 815.2H484.82M499.22 810.9H514.42M499.22 818.1H514.42M524.86 817.2H540.06M524.86 822.2H540.06M547.47 821.7H562.67M547.47 826.7H562.67M567.7 824.7H582.9M567.7 829.7H582.9" stroke="#0000ff" stroke-width="1.6" fill="none"/>
<path d="M133.2 721.1 L266.29 732 L344.14 733.8 L399.37 736.3 L442.21 735 L477.22 742.6 L506.82 736.3 L532.46 737.6 L555.07 738.1 L575.3 738.1" stroke="#ff0000" stroke-width="2.25" fill="none" stroke-linejoin="round"/>
<path d="M133.2 713.3 L131.45 718.69 L125.78 718.69 L130.37 722.02 L128.62 727.41 L133.2 724.08 L137.78 727.41 L136.03 722.02 L140.62 718.69 L134.95 718.69ZM266.29 724.2 L264.53 729.59 L258.87 729.59 L263.45 732.92 L261.7 738.31 L266.29 734.98 L270.87 738.31 L269.12 732.92 L273.7 729.59 L268.04 729.59ZM344.14 726 L342.38 731.39 L336.72 731.39 L341.3 734.72 L339.55 740.11 L344.14 736.78 L348.72 740.11 L346.97 734.72 L351.55 731.39 L345.89 731.39ZM399.37 728.5 L397.62 733.89 L391.95 733.89 L396.54 737.22 L394.79 742.61 L399.37 739.28 L403.96 742.61 L402.2 737.22 L406.79 733.89 L401.12 733.89ZM442.21 727.2 L440.46 732.59 L434.8 732.59 L439.38 735.92 L437.63 741.31 L442.21 737.98 L446.8 741.31 L445.05 735.92 L449.63 732.59 L443.97 732.59ZM477.22 734.8 L475.47 740.19 L469.8 740.19 L474.39 743.52 L472.64 748.91 L477.22 745.58 L481.81 748.91 L480.05 743.52 L484.64 740.19 L478.97 740.19ZM506.82 728.5 L505.07 733.89 L499.4 733.89 L503.98 737.22 L502.23 742.61 L506.82 739.28 L511.4 742.61 L509.65 737.22 L514.24 733.89 L508.57 733.89ZM532.46 729.8 L530.7 735.19 L525.04 735.19 L529.62 738.52 L527.87 743.91 L532.46 740.58 L537.04 743.91 L535.29 738.52 L539.87 735.19 L534.21 735.19ZM555.07 730.3 L553.32 735.69 L547.65 735.69 L552.24 739.02 L550.49 744.41 L555.07 741.08 L559.66 744.41 L557.9 739.02 L562.49 735.69 L556.82 735.69ZM575.3 730.3 L573.55 735.69 L567.88 735.69 L572.47 739.02 L570.72 744.41 L575.3 741.08 L579.88 744.41 L578.13 739.02 L582.72 735.69 L577.05 735.69Z" fill="#ff0000" stroke="#ff0000" stroke-width="1.4" stroke-linejoin="miter" stroke-miterlimit="4"/>
<path d="M133.2 841.1 L266.29 871.9 L344.14 886.5 L399.37 897.2 L442.21 906.8 L477.22 914.4 L506.82 919.4 L532.46 925.7 L555.07 927 L575.3 933.3" stroke="#0000ff" stroke-width="2.25" fill="none" stroke-linejoin="round"/>
<path d="M133.2 833.3 L131.45 838.69 L125.78 838.69 L130.37 842.02 L128.62 847.41 L133.2 844.08 L137.78 847.41 L136.03 842.02 L140.62 838.69 L134.95 838.69ZM266.29 864.1 L264.53 869.49 L258.87 869.49 L263.45 872.82 L261.7 878.21 L266.29 874.88 L270.87 878.21 L269.12 872.82 L273.7 869.49 L268.04 869.49ZM344.14 878.7 L342.38 884.09 L336.72 884.09 L341.3 887.42 L339.55 892.81 L344.14 889.48 L348.72 892.81 L346.97 887.42 L351.55 884.09 L345.89 884.09ZM399.37 889.4 L397.62 894.79 L391.95 894.79 L396.54 898.12 L394.79 903.51 L399.37 900.18 L403.96 903.51 L402.2 898.12 L406.79 894.79 L401.12 894.79ZM442.21 899 L440.46 904.39 L434.8 904.39 L439.38 907.72 L437.63 913.11 L442.21 909.78 L446.8 913.11 L445.05 907.72 L449.63 904.39 L443.97 904.39ZM477.22 906.6 L475.47 911.99 L469.8 911.99 L474.39 915.32 L472.64 920.71 L477.22 917.38 L481.81 920.71 L480.05 915.32 L484.64 911.99 L478.97 911.99ZM506.82 911.6 L505.07 916.99 L499.4 916.99 L503.98 920.32 L502.23 925.71 L506.82 922.38 L511.4 925.71 L509.65 920.32 L514.24 916.99 L508.57 916.99ZM532.46 917.9 L530.7 923.29 L525.04 923.29 L529.62 926.62 L527.87 932.01 L532.46 928.68 L537.04 932.01 L535.29 926.62 L539.87 923.29 L534.21 923.29ZM555.07 919.2 L553.32 924.59 L547.65 924.59 L552.24 927.92 L550.49 933.31 L555.07 929.98 L559.66 933.31 L557.9 927.92 L562.49 924.59 L556.82 924.59ZM575.3 925.5 L573.55 930.89 L567.88 930.89 L572.47 934.22 L570.72 939.61 L575.3 936.28 L579.88 939.61 L578.13 934.22 L582.72 930.89 L577.05 930.89Z" fill="#0000ff" stroke="#0000ff" stroke-width="1.4" stroke-linejoin="miter" stroke-miterlimit="4"/>
<path d="M133.2 700.9 L266.29 707.3 L344.14 709.8 L399.37 711.8 L442.21 714.3 L477.22 714.8 L506.82 714.8 L532.46 714.8 L555.07 717.4 L575.3 717.4" stroke="#ff0000" stroke-width="2.25" fill="none" stroke-dasharray="14.4 3.6 2.25 3.6"/>
<path d="M124.4 692.1L142 709.7M124.4 709.7L142 692.1M257.49 698.5L275.09 716.1M257.49 716.1L275.09 698.5M335.34 701L352.94 718.6M335.34 718.6L352.94 701M390.57 703L408.17 720.6M390.57 720.6L408.17 703M433.41 705.5L451.01 723.1M433.41 723.1L451.01 705.5M468.42 706L486.02 723.6M468.42 723.6L486.02 706M498.02 706L515.62 723.6M498.02 723.6L515.62 706M523.66 706L541.26 723.6M523.66 723.6L541.26 706M546.27 708.6L563.87 726.2M546.27 726.2L563.87 708.6M566.5 708.6L584.1 726.2M566.5 726.2L584.1 708.6" stroke="#ff0000" stroke-width="1.5" fill="none"/>
<path d="M133.2 742.6 L266.29 767.9 L344.14 781.7 L399.37 795.7 L442.21 799.5 L477.22 809.6 L506.82 813.3 L532.46 819.7 L555.07 824.2 L575.3 827.2" stroke="#0000ff" stroke-width="2.25" fill="none" stroke-dasharray="14.4 3.6 2.25 3.6"/>
<path d="M124.4 733.8L142 751.4M124.4 751.4L142 733.8M257.49 759.1L275.09 776.7M257.49 776.7L275.09 759.1M335.34 772.9L352.94 790.5M335.34 790.5L352.94 772.9M390.57 786.9L408.17 804.5M390.57 804.5L408.17 786.9M433.41 790.7L451.01 808.3M433.41 808.3L451.01 790.7M468.42 800.8L486.02 818.4M468.42 818.4L486.02 800.8M498.02 804.5L515.62 822.1M498.02 822.1L515.62 804.5M523.66 810.9L541.26 828.5M523.66 828.5L541.26 810.9M546.27 815.4L563.87 833M546.27 833L563.87 815.4M566.5 818.4L584.1 836M566.5 836L584.1 818.4" stroke="#0000ff" stroke-width="1.5" fill="none"/>
</g>
<rect x="110.5" y="686.3" width="487.6" height="278.3" fill="none" stroke="#000" stroke-width="1.3"/>
<text transform="translate(50.99 731.2) scale(1.0083 1)" font-size="21.6">10</text>
<text transform="translate(78.8 724.7) scale(0.9889 1)" font-size="15.6">−</text>
<text transform="translate(90.27 723.7) scale(0.8286 1)" font-size="15.6">1</text>
<text transform="translate(50.99 798.3) scale(1.0083 1)" font-size="21.6">10</text>
<text transform="translate(78.8 791.8) scale(0.9889 1)" font-size="15.6">−</text>
<text transform="translate(89.8 790.8) scale(0.9375 1)" font-size="15.6">3</text>
<text transform="translate(50.99 866.4) scale(1.0083 1)" font-size="21.6">10</text>
<text transform="translate(78.8 859.9) scale(0.9889 1)" font-size="15.6">−</text>
<text transform="translate(89.8 858.9) scale(0.8333 1)" font-size="15.6">5</text>
<text transform="translate(50.99 932.5) scale(1.0083 1)" font-size="21.6">10</text>
<text transform="translate(78.8 926) scale(0.9889 1)" font-size="15.6">−</text>
<text transform="translate(89.8 925) scale(0.9375 1)" font-size="15.6">7</text>
<text transform="translate(131 997.3) rotate(-45) translate(-20.18 7.67) scale(1.09 1)" font-size="21.6">100</text>
<text transform="translate(264.09 997.3) rotate(-45) translate(-20.18 7.67) scale(1.09 1)" font-size="21.6">200</text>
<text transform="translate(341.94 997.3) rotate(-45) translate(-19.63 7.67) scale(1.09 1)" font-size="21.6">300</text>
<text transform="translate(397.17 997.3) rotate(-45) translate(-19.63 7.67) scale(1.09 1)" font-size="21.6">400</text>
<text transform="translate(440.01 997.3) rotate(-45) translate(-19.63 7.67) scale(1.09 1)" font-size="21.6">500</text>
<text transform="translate(475.02 997.3) rotate(-45) translate(-20.18 7.67) scale(1.09 1)" font-size="21.6">600</text>
<text transform="translate(504.62 997.3) rotate(-45) translate(-20.18 7.67) scale(1.09 1)" font-size="21.6">700</text>
<text transform="translate(530.26 997.3) rotate(-45) translate(-19.63 7.67) scale(1.09 1)" font-size="21.6">800</text>
<text transform="translate(552.87 997.3) rotate(-45) translate(-20.18 7.67) scale(1.09 1)" font-size="21.6">900</text>
<text transform="translate(573.3 1002.6) rotate(-45) translate(-26.72 7.67) scale(1.09 1)" font-size="21.6">1000</text>
<text transform="translate(150.26 1048.7) scale(1.1382 1)" font-size="21.6">Matrix-vector multiplication queries m</text>
<text transform="translate(38.1 895.9) rotate(-90) translate(-1.11 0) scale(1.1120 1)" font-size="21.6">Relative error</text>
<rect x="68" y="612" width="572.3" height="68.7" rx="3.5" fill="#fff" fill-opacity="0.8" stroke="#cccccc" stroke-width="1.1"/>
<path d="M75 629H119.8" stroke="#ff0000" stroke-width="2.25"/>
<path d="M97.3 618.1V639.9" stroke="#ff0000" stroke-width="2"/>
<path d="M89.9 618.1H104.7M89.9 639.9H104.7" stroke="#ff0000" stroke-width="1.6"/>
<path d="M97.3 621.2 L95.55 626.59 L89.88 626.59 L94.47 629.92 L92.72 635.31 L97.3 631.98 L101.88 635.31 L100.13 629.92 L104.72 626.59 L99.05 626.59Z" fill="#ff0000" stroke="#ff0000" stroke-width="1.4" stroke-linejoin="miter" stroke-miterlimit="4"/>
<path d="M75 660.6H119.8" stroke="#0000ff" stroke-width="2.25"/>
<path d="M97.3 649.7V671.5" stroke="#0000ff" stroke-width="2"/>
<path d="M89.9 649.7H104.7M89.9 671.5H104.7" stroke="#0000ff" stroke-width="1.6"/>
<path d="M97.3 652.8 L95.55 658.19 L89.88 658.19 L94.47 661.52 L92.72 666.91 L97.3 663.58 L101.88 666.91 L100.13 661.52 L104.72 658.19 L99.05 658.19Z" fill="#0000ff" stroke="#0000ff" stroke-width="1.4" stroke-linejoin="miter" stroke-miterlimit="4"/>
<path d="M359.3 629H401.3" stroke="#ff0000" stroke-width="2.25" stroke-dasharray="14.4 3.6 2.25 3.6"/>
<path d="M380 618.1V639.9" stroke="#ff0000" stroke-width="2"/>
<path d="M372.6 618.1H387.4M372.6 639.9H387.4" stroke="#ff0000" stroke-width="1.6"/>
<path d="M371.2 620.2L388.8 637.8M371.2 637.8L388.8 620.2" stroke="#ff0000" stroke-width="1.5"/>
<path d="M359.3 660.6H401.3" stroke="#0000ff" stroke-width="2.25" stroke-dasharray="14.4 3.6 2.25 3.6"/>
<path d="M380 649.7V671.5" stroke="#0000ff" stroke-width="2"/>
<path d="M372.6 649.7H387.4M372.6 671.5H387.4" stroke="#0000ff" stroke-width="1.6"/>
<path d="M371.2 651.8L388.8 669.4M371.2 669.4L388.8 651.8" stroke="#0000ff" stroke-width="1.5"/>
<text transform="translate(135.2 635.9) scale(1.0545 1)" font-size="21.6">JL (norm-wise)</text>
<text transform="translate(136.3 667.5) scale(1.1037 1)" font-size="21.6">Alg1 (norm-wise)</text>
<text transform="translate(417.4 635.9) scale(1.0738 1)" font-size="21.6">JL (element-wise)</text>
<text transform="translate(418.8 667.5) scale(1.1112 1)" font-size="21.6">Alg1 (element-wise)</text>
<text transform="translate(70.97 1122) scale(1.0316 1)" font-size="30" font-family='"Liberation Serif", serif'>(c) Moderate eigenvalue decay</text>
<text transform="translate(462.76 1122) scale(0.8444 1)" font-size="30" font-family='"Liberation Serif", serif'>(</text>
<text transform="translate(474.6 1122) scale(0.8923 1)" font-size="30" font-family='"Liberation Serif", serif' font-style="italic">c</text>
<text transform="translate(496.7 1122) scale(1.4000 1)" font-size="30" font-family='"Liberation Serif", serif'>=</text>
<text transform="translate(530.17 1122) scale(1.0629 1)" font-size="30" font-family='"Liberation Serif", serif'>1.5)</text>
<clipPath id="clipd"><rect x="833.4" y="686.3" width="486.4" height="278.3"/></clipPath>
<path d="" stroke="#b0b0b0" stroke-width="1" fill="none"/>
<path d="M833.4 714.5H1319.8M833.4 764.5H1319.8M833.4 814.5H1319.8M833.4 864.5H1319.8M833.4 914.5H1319.8M855.5 686.3V964.6M988.5 686.3V964.6M1065.5 686.3V964.6M1121.5 686.3V964.6M1164.5 686.3V964.6M1198.5 686.3V964.6M1228.5 686.3V964.6M1254.5 686.3V964.6M1276.5 686.3V964.6M1297.5 686.3V964.6M834.5 686.3V964.6" stroke="#b0b0b0" stroke-width="1" fill="none"/>
<path d="M827.8 714.8H833.4M827.8 764.68H833.4M827.8 814.56H833.4M827.8 864.44H833.4M827.8 914.32H833.4M855.2 964.6V970.2M988.2 964.6V970.2M1065.99 964.6V970.2M1121.19 964.6V970.2M1164 964.6V970.2M1198.99 964.6V970.2M1228.56 964.6V970.2M1254.19 964.6V970.2M1276.78 964.6V970.2M1297 964.6V970.2" stroke="#000" stroke-width="1.3" fill="none"/>
<path d="M834.98 964.6V968" stroke="#000" stroke-width="1" fill="none"/>
<g clip-path="url(#clipd)">
<path d="M855.2 712.3V726.2M988.2 716V727.5M1065.99 716V727M1121.19 714.8V732.8M1164 714V731.9M1198.99 712V729.2M1228.56 712V752.3M1254.19 714V736.4M1276.78 716V738.3M1297 720V739.2" stroke="#ff0000" stroke-width="2" fill="none"/>
<path d="M847.6 712.3H862.8M847.6 726.2H862.8M980.6 716H995.8M980.6 727.5H995.8M1058.39 716H1073.59M1058.39 727H1073.59M1113.59 714.8H1128.79M1113.59 732.8H1128.79M1156.4 714H1171.6M1156.4 731.9H1171.6M1191.39 712H1206.59M1191.39 729.2H1206.59M1220.96 712H1236.16M1220.96 752.3H1236.16M1246.59 714H1261.79M1246.59 736.4H1261.79M1269.18 716H1284.38M1269.18 738.3H1284.38M1289.4 720H1304.6M1289.4 739.2H1304.6" stroke="#ff0000" stroke-width="1.6" fill="none"/>
<path d="M855.2 831V856.2M988.2 860V873.2M1065.99 873.4V893.6M1121.19 888.6V908.8M1164 900.5V926.5M1198.99 903V918.2M1228.56 910.6V930.8M1254.19 918.2V940.1M1276.78 924V941.7M1297 928.3V951.8" stroke="#0000ff" stroke-width="2" fill="none"/>
<path d="M847.6 831H862.8M847.6 856.2H862.8M980.6 860H995.8M980.6 873.2H995.8M1058.39 873.4H1073.59M1058.39 893.6H1073.59M1113.59 888.6H1128.79M1113.59 908.8H1128.79M1156.4 900.5H1171.6M1156.4 926.5H1171.6M1191.39 903H1206.59M1191.39 918.2H1206.59M1220.96 910.6H1236.16M1220.96 930.8H1236.16M1246.59 918.2H1261.79M1246.59 940.1H1261.79M1269.18 924H1284.38M1269.18 941.7H1284.38M1289.4 928.3H1304.6M1289.4 951.8H1304.6" stroke="#0000ff" stroke-width="1.6" fill="none"/>
<path d="M855.2 698.4V703.4M988.2 702.7V707.7M1065.99 703V708M1121.19 705.9V710.9M1164 707.5V712.5M1198.99 707.5V712.5M1228.56 707.5V712.5M1254.19 708.3V713.3M1276.78 709.9V714.9M1297 708.3V713.3" stroke="#ff0000" stroke-width="2" fill="none"/>
<path d="M847.6 698.4H862.8M847.6 703.4H862.8M980.6 702.7H995.8M980.6 707.7H995.8M1058.39 703H1073.59M1058.39 708H1073.59M1113.59 705.9H1128.79M1113.59 710.9H1128.79M1156.4 707.5H1171.6M1156.4 712.5H1171.6M1191.39 707.5H1206.59M1191.39 712.5H1206.59M1220.96 707.5H1236.16M1220.96 712.5H1236.16M1246.59 708.3H1261.79M1246.59 713.3H1261.79M1269.18 709.9H1284.38M1269.18 714.9H1284.38M1289.4 708.3H1304.6M1289.4 713.3H1304.6" stroke="#ff0000" stroke-width="1.6" fill="none"/>
<path d="M855.2 749.2V758.2M988.2 774.2V788.2M1065.99 792.4V797.4M1121.19 802.1V813.8M1164 812.6V817.6M1198.99 817.2V823.2M1228.56 823V828M1254.19 830.5V835.5M1276.78 832.3V837.3M1297 837.4V842.4" stroke="#0000ff" stroke-width="2" fill="none"/>
<path d="M847.6 749.2H862.8M847.6 758.2H862.8M980.6 774.2H995.8M980.6 788.2H995.8M1058.39 792.4H1073.59M1058.39 797.4H1073.59M1113.59 802.1H1128.79M1113.59 813.8H1128.79M1156.4 812.6H1171.6M1156.4 817.6H1171.6M1191.39 817.2H1206.59M1191.39 823.2H1206.59M1220.96 823H1236.16M1220.96 828H1236.16M1246.59 830.5H1261.79M1246.59 835.5H1261.79M1269.18 832.3H1284.38M1269.18 837.3H1284.38M1289.4 837.4H1304.6M1289.4 842.4H1304.6" stroke="#0000ff" stroke-width="1.6" fill="none"/>
<path d="M855.2 715.5 L988.2 720.5 L1065.99 718.5 L1121.19 721.2 L1164 722.8 L1198.99 720.4 L1228.56 720.4 L1254.19 723.6 L1276.78 726.8 L1297 728.4" stroke="#ff0000" stroke-width="2.25" fill="none" stroke-linejoin="round"/>
<path d="M855.2 707.7 L853.45 713.09 L847.78 713.09 L852.37 716.42 L850.62 721.81 L855.2 718.48 L859.78 721.81 L858.03 716.42 L862.62 713.09 L856.95 713.09ZM988.2 712.7 L986.44 718.09 L980.78 718.09 L985.36 721.42 L983.61 726.81 L988.2 723.48 L992.78 726.81 L991.03 721.42 L995.61 718.09 L989.95 718.09ZM1065.99 710.7 L1064.24 716.09 L1058.57 716.09 L1063.16 719.42 L1061.41 724.81 L1065.99 721.48 L1070.58 724.81 L1068.83 719.42 L1073.41 716.09 L1067.74 716.09ZM1121.19 713.4 L1119.44 718.79 L1113.77 718.79 L1118.36 722.12 L1116.61 727.51 L1121.19 724.18 L1125.77 727.51 L1124.02 722.12 L1128.61 718.79 L1122.94 718.79ZM1164 715 L1162.25 720.39 L1156.59 720.39 L1161.17 723.72 L1159.42 729.11 L1164 725.78 L1168.59 729.11 L1166.84 723.72 L1171.42 720.39 L1165.76 720.39ZM1198.99 712.6 L1197.24 717.99 L1191.57 717.99 L1196.15 721.32 L1194.4 726.71 L1198.99 723.38 L1203.57 726.71 L1201.82 721.32 L1206.41 717.99 L1200.74 717.99ZM1228.56 712.6 L1226.81 717.99 L1221.15 717.99 L1225.73 721.32 L1223.98 726.71 L1228.56 723.38 L1233.15 726.71 L1231.4 721.32 L1235.98 717.99 L1230.32 717.99ZM1254.19 715.8 L1252.43 721.19 L1246.77 721.19 L1251.35 724.52 L1249.6 729.91 L1254.19 726.58 L1258.77 729.91 L1257.02 724.52 L1261.6 721.19 L1255.94 721.19ZM1276.78 719 L1275.03 724.39 L1269.37 724.39 L1273.95 727.72 L1272.2 733.11 L1276.78 729.78 L1281.37 733.11 L1279.62 727.72 L1284.2 724.39 L1278.54 724.39ZM1297 720.6 L1295.25 725.99 L1289.58 725.99 L1294.17 729.32 L1292.42 734.71 L1297 731.38 L1301.58 734.71 L1299.83 729.32 L1304.42 725.99 L1298.75 725.99Z" fill="#ff0000" stroke="#ff0000" stroke-width="1.4" stroke-linejoin="miter" stroke-miterlimit="4"/>
<path d="M855.2 837.3 L988.2 865.8 L1065.99 880.2 L1121.19 892.9 L1164 905.5 L1198.99 906.8 L1228.56 915.6 L1254.19 924.5 L1276.78 928.3 L1297 933.3" stroke="#0000ff" stroke-width="2.25" fill="none" stroke-linejoin="round"/>
<path d="M855.2 829.5 L853.45 834.89 L847.78 834.89 L852.37 838.22 L850.62 843.61 L855.2 840.28 L859.78 843.61 L858.03 838.22 L862.62 834.89 L856.95 834.89ZM988.2 858 L986.44 863.39 L980.78 863.39 L985.36 866.72 L983.61 872.11 L988.2 868.78 L992.78 872.11 L991.03 866.72 L995.61 863.39 L989.95 863.39ZM1065.99 872.4 L1064.24 877.79 L1058.57 877.79 L1063.16 881.12 L1061.41 886.51 L1065.99 883.18 L1070.58 886.51 L1068.83 881.12 L1073.41 877.79 L1067.74 877.79ZM1121.19 885.1 L1119.44 890.49 L1113.77 890.49 L1118.36 893.82 L1116.61 899.21 L1121.19 895.88 L1125.77 899.21 L1124.02 893.82 L1128.61 890.49 L1122.94 890.49ZM1164 897.7 L1162.25 903.09 L1156.59 903.09 L1161.17 906.42 L1159.42 911.81 L1164 908.48 L1168.59 911.81 L1166.84 906.42 L1171.42 903.09 L1165.76 903.09ZM1198.99 899 L1197.24 904.39 L1191.57 904.39 L1196.15 907.72 L1194.4 913.11 L1198.99 909.78 L1203.57 913.11 L1201.82 907.72 L1206.41 904.39 L1200.74 904.39ZM1228.56 907.8 L1226.81 913.19 L1221.15 913.19 L1225.73 916.52 L1223.98 921.91 L1228.56 918.58 L1233.15 921.91 L1231.4 916.52 L1235.98 913.19 L1230.32 913.19ZM1254.19 916.7 L1252.43 922.09 L1246.77 922.09 L1251.35 925.42 L1249.6 930.81 L1254.19 927.48 L1258.77 930.81 L1257.02 925.42 L1261.6 922.09 L1255.94 922.09ZM1276.78 920.5 L1275.03 925.89 L1269.37 925.89 L1273.95 929.22 L1272.2 934.61 L1276.78 931.28 L1281.37 934.61 L1279.62 929.22 L1284.2 925.89 L1278.54 925.89ZM1297 925.5 L1295.25 930.89 L1289.58 930.89 L1294.17 934.22 L1292.42 939.61 L1297 936.28 L1301.58 939.61 L1299.83 934.22 L1304.42 930.89 L1298.75 930.89Z" fill="#0000ff" stroke="#0000ff" stroke-width="1.4" stroke-linejoin="miter" stroke-miterlimit="4"/>
<path d="M855.2 700.9 L988.2 705.2 L1065.99 705.5 L1121.19 708.4 L1164 710 L1198.99 710 L1228.56 710 L1254.19 710.8 L1276.78 712.4 L1297 710.8" stroke="#ff0000" stroke-width="2.25" fill="none" stroke-dasharray="14.4 3.6 2.25 3.6"/>
<path d="M846.4 692.1L864 709.7M846.4 709.7L864 692.1M979.4 696.4L997 714M979.4 714L997 696.4M1057.19 696.7L1074.79 714.3M1057.19 714.3L1074.79 696.7M1112.39 699.6L1129.99 717.2M1112.39 717.2L1129.99 699.6M1155.2 701.2L1172.8 718.8M1155.2 718.8L1172.8 701.2M1190.19 701.2L1207.79 718.8M1190.19 718.8L1207.79 701.2M1219.76 701.2L1237.36 718.8M1219.76 718.8L1237.36 701.2M1245.39 702L1262.99 719.6M1245.39 719.6L1262.99 702M1267.98 703.6L1285.58 721.2M1267.98 721.2L1285.58 703.6M1288.2 702L1305.8 719.6M1288.2 719.6L1305.8 702" stroke="#ff0000" stroke-width="1.5" fill="none"/>
<path d="M855.2 752.2 L988.2 779.2 L1065.99 794.9 L1121.19 804.5 L1164 815.1 L1198.99 819.7 L1228.56 825.5 L1254.19 833 L1276.78 834.8 L1297 839.9" stroke="#0000ff" stroke-width="2.25" fill="none" stroke-dasharray="14.4 3.6 2.25 3.6"/>
<path d="M846.4 743.4L864 761M846.4 761L864 743.4M979.4 770.4L997 788M979.4 788L997 770.4M1057.19 786.1L1074.79 803.7M1057.19 803.7L1074.79 786.1M1112.39 795.7L1129.99 813.3M1112.39 813.3L1129.99 795.7M1155.2 806.3L1172.8 823.9M1155.2 823.9L1172.8 806.3M1190.19 810.9L1207.79 828.5M1190.19 828.5L1207.79 810.9M1219.76 816.7L1237.36 834.3M1219.76 834.3L1237.36 816.7M1245.39 824.2L1262.99 841.8M1245.39 841.8L1262.99 824.2M1267.98 826L1285.58 843.6M1267.98 843.6L1285.58 826M1288.2 831.1L1305.8 848.7M1288.2 848.7L1305.8 831.1" stroke="#0000ff" stroke-width="1.5" fill="none"/>
</g>
<rect x="833.4" y="686.3" width="486.4" height="278.3" fill="none" stroke="#000" stroke-width="1.3"/>
<text transform="translate(773.89 722.8) scale(1.0083 1)" font-size="21.6">10</text>
<text transform="translate(801.7 716.3) scale(0.9889 1)" font-size="15.6">−</text>
<text transform="translate(813.17 715.3) scale(0.8286 1)" font-size="15.6">1</text>
<text transform="translate(773.89 772.68) scale(1.0083 1)" font-size="21.6">10</text>
<text transform="translate(801.7 766.18) scale(0.9889 1)" font-size="15.6">−</text>
<text transform="translate(812.7 765.18) scale(0.9375 1)" font-size="15.6">3</text>
<text transform="translate(773.89 822.56) scale(1.0083 1)" font-size="21.6">10</text>
<text transform="translate(801.7 816.06) scale(0.9889 1)" font-size="15.6">−</text>
<text transform="translate(812.7 815.06) scale(0.8333 1)" font-size="15.6">5</text>
<text transform="translate(773.89 872.44) scale(1.0083 1)" font-size="21.6">10</text>
<text transform="translate(801.7 865.94) scale(0.9889 1)" font-size="15.6">−</text>
<text transform="translate(812.7 864.94) scale(0.9375 1)" font-size="15.6">7</text>
<text transform="translate(773.89 922.32) scale(1.0083 1)" font-size="21.6">10</text>
<text transform="translate(801.7 915.82) scale(0.9889 1)" font-size="15.6">−</text>
<text transform="translate(812.7 914.82) scale(0.9375 1)" font-size="15.6">9</text>
<text transform="translate(853 997.3) rotate(-45) translate(-20.18 7.67) scale(1.09 1)" font-size="21.6">100</text>
<text transform="translate(986 997.3) rotate(-45) translate(-20.18 7.67) scale(1.09 1)" font-size="21.6">200</text>
<text transform="translate(1063.79 997.3) rotate(-45) translate(-19.63 7.67) scale(1.09 1)" font-size="21.6">300</text>
<text transform="translate(1118.99 997.3) rotate(-45) translate(-19.63 7.67) scale(1.09 1)" font-size="21.6">400</text>
<text transform="translate(1161.8 997.3) rotate(-45) translate(-19.63 7.67) scale(1.09 1)" font-size="21.6">500</text>
<text transform="translate(1196.79 997.3) rotate(-45) translate(-20.18 7.67) scale(1.09 1)" font-size="21.6">600</text>
<text transform="translate(1226.36 997.3) rotate(-45) translate(-20.18 7.67) scale(1.09 1)" font-size="21.6">700</text>
<text transform="translate(1251.99 997.3) rotate(-45) translate(-19.63 7.67) scale(1.09 1)" font-size="21.6">800</text>
<text transform="translate(1274.58 997.3) rotate(-45) translate(-20.18 7.67) scale(1.09 1)" font-size="21.6">900</text>
<text transform="translate(1295 1002.6) rotate(-45) translate(-26.72 7.67) scale(1.09 1)" font-size="21.6">1000</text>
<text transform="translate(872.06 1048.7) scale(1.1382 1)" font-size="21.6">Matrix-vector multiplication queries m</text>
<text transform="translate(759.9 895.9) rotate(-90) translate(-1.11 0) scale(1.1120 1)" font-size="21.6">Relative error</text>
<rect x="789.8" y="612" width="572.3" height="68.7" rx="3.5" fill="#fff" fill-opacity="0.8" stroke="#cccccc" stroke-width="1.1"/>
<path d="M796.8 629H841.6" stroke="#ff0000" stroke-width="2.25"/>
<path d="M819.1 618.1V639.9" stroke="#ff0000" stroke-width="2"/>
<path d="M811.7 618.1H826.5M811.7 639.9H826.5" stroke="#ff0000" stroke-width="1.6"/>
<path d="M819.1 621.2 L817.35 626.59 L811.68 626.59 L816.27 629.92 L814.52 635.31 L819.1 631.98 L823.68 635.31 L821.93 629.92 L826.52 626.59 L820.85 626.59Z" fill="#ff0000" stroke="#ff0000" stroke-width="1.4" stroke-linejoin="miter" stroke-miterlimit="4"/>
<path d="M796.8 660.6H841.6" stroke="#0000ff" stroke-width="2.25"/>
<path d="M819.1 649.7V671.5" stroke="#0000ff" stroke-width="2"/>
<path d="M811.7 649.7H826.5M811.7 671.5H826.5" stroke="#0000ff" stroke-width="1.6"/>
<path d="M819.1 652.8 L817.35 658.19 L811.68 658.19 L816.27 661.52 L814.52 666.91 L819.1 663.58 L823.68 666.91 L821.93 661.52 L826.52 658.19 L820.85 658.19Z" fill="#0000ff" stroke="#0000ff" stroke-width="1.4" stroke-linejoin="miter" stroke-miterlimit="4"/>
<path d="M1081.1 629H1123.1" stroke="#ff0000" stroke-width="2.25" stroke-dasharray="14.4 3.6 2.25 3.6"/>
<path d="M1101.8 618.1V639.9" stroke="#ff0000" stroke-width="2"/>
<path d="M1094.4 618.1H1109.2M1094.4 639.9H1109.2" stroke="#ff0000" stroke-width="1.6"/>
<path d="M1093 620.2L1110.6 637.8M1093 637.8L1110.6 620.2" stroke="#ff0000" stroke-width="1.5"/>
<path d="M1081.1 660.6H1123.1" stroke="#0000ff" stroke-width="2.25" stroke-dasharray="14.4 3.6 2.25 3.6"/>
<path d="M1101.8 649.7V671.5" stroke="#0000ff" stroke-width="2"/>
<path d="M1094.4 649.7H1109.2M1094.4 671.5H1109.2" stroke="#0000ff" stroke-width="1.6"/>
<path d="M1093 651.8L1110.6 669.4M1093 669.4L1110.6 651.8" stroke="#0000ff" stroke-width="1.5"/>
<text transform="translate(857 635.9) scale(1.0545 1)" font-size="21.6">JL (norm-wise)</text>
<text transform="translate(858.1 667.5) scale(1.1037 1)" font-size="21.6">Alg1 (norm-wise)</text>
<text transform="translate(1139.2 635.9) scale(1.0738 1)" font-size="21.6">JL (element-wise)</text>
<text transform="translate(1140.6 667.5) scale(1.1112 1)" font-size="21.6">Alg1 (element-wise)</text>
<text transform="translate(826.27 1121.8) scale(1.0288 1)" font-size="30" font-family='"Liberation Serif", serif'>(d) Fast eigenvalue decay</text>
<text transform="translate(1151.96 1121.8) scale(0.8444 1)" font-size="30" font-family='"Liberation Serif", serif'>(</text>
<text transform="translate(1163.8 1121.8) scale(0.8923 1)" font-size="30" font-family='"Liberation Serif", serif' font-style="italic">c</text>
<text transform="translate(1185.9 1121.8) scale(1.4000 1)" font-size="30" font-family='"Liberation Serif", serif'>=</text>
<text transform="translate(1218.93 1121.8) scale(1.0725 1)" font-size="30" font-family='"Liberation Serif", serif'>2.0)</text>
</svg></body></html>
